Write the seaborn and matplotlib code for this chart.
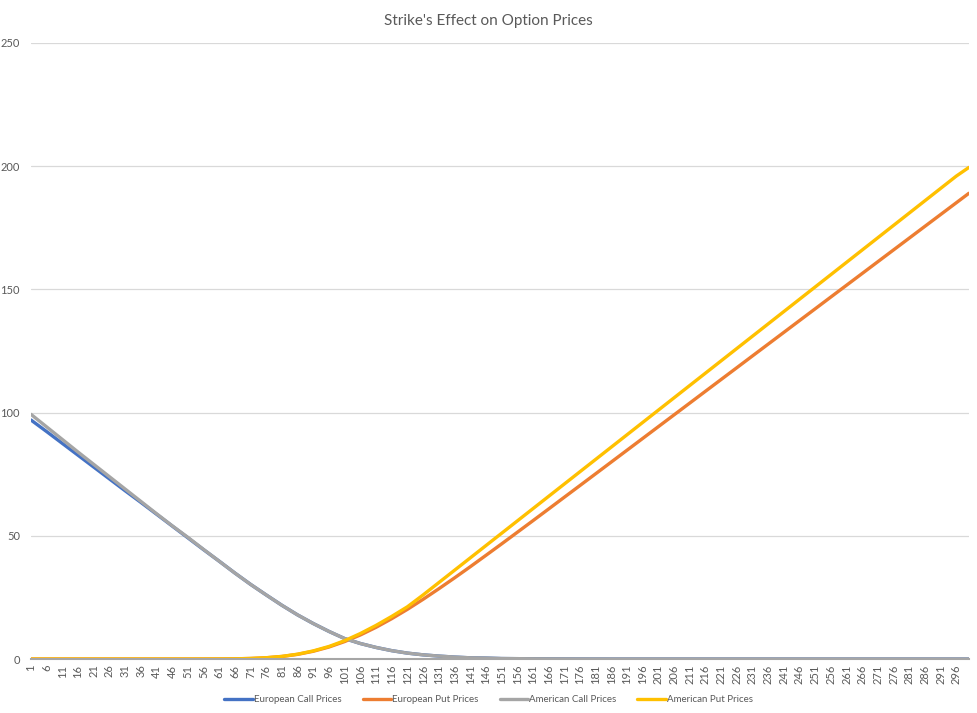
import matplotlib
matplotlib.use("Agg")
import matplotlib.pyplot as plt
import seaborn as sns
import pandas as pd

# strike prices (every 5th category of the 1..300 axis, plus the last one)
strikes = [1, 6, 11, 16, 21, 26, 31, 36, 41, 46, 51, 56, 61, 66, 71, 76, 81, 86, 91, 96,
           101, 106, 111, 116, 121, 126, 131, 136, 141, 146, 151, 156, 161, 166, 171, 176, 181, 186, 191, 196,
           201, 206, 211, 216, 221, 226, 231, 236, 241, 246, 251, 256, 261, 266, 271, 276, 281, 286, 291, 296,
           300]

euro_call = [97.0, 92.3, 87.5, 82.7, 77.9, 73.1, 68.3, 63.6, 58.8, 54.0, 49.2, 44.4, 39.7, 34.9, 30.3, 26.0, 21.8, 17.9, 14.4, 11.2,
             8.3, 6.3, 4.7, 3.4, 2.4, 1.7, 1.2, 0.8, 0.5, 0.4, 0.2, 0.15, 0.1, 0.06, 0.04, 0.02, 0.01, 0, 0, 0,
             0, 0, 0, 0, 0, 0, 0, 0, 0, 0, 0, 0, 0, 0, 0, 0, 0, 0, 0, 0,
             0]

euro_put = [0, 0, 0, 0, 0, 0, 0, 0, 0, 0, 0, 0.01, 0.03, 0.08, 0.22, 0.51, 1.03, 1.89, 3.15, 4.87,
            7.09, 9.76, 12.87, 16.37, 20.16, 24.23, 28.50, 32.90, 37.42, 42.04, 46.69, 51.40, 56.12, 60.87, 65.64, 70.40, 75.17, 79.95, 84.73, 89.51,
            94.30, 99.08, 103.86, 108.65, 113.43, 118.21, 123.00, 127.78, 132.56, 137.35, 142.13, 146.92, 151.70, 156.48, 161.27, 166.05, 170.83, 175.62, 180.40, 185.18,
            189.01]

amer_call = [99.3, 94.2, 89.1, 84.0, 79.0, 74.0, 69.0, 64.0, 59.0, 54.1, 49.4, 44.5, 39.7, 34.9, 30.3, 26.0, 21.8, 17.9, 14.4, 11.2,
             8.3, 6.3, 4.7, 3.4, 2.4, 1.7, 1.2, 0.8, 0.5, 0.4, 0.2, 0.15, 0.1, 0.06, 0.04, 0.02, 0.01, 0, 0, 0,
             0, 0, 0, 0, 0, 0, 0, 0, 0, 0, 0, 0, 0, 0, 0, 0, 0, 0, 0, 0,
             0]

amer_put = [0, 0, 0, 0, 0, 0, 0, 0, 0, 0, 0, 0.01, 0.03, 0.08, 0.23, 0.53, 1.07, 1.97, 3.30, 5.10,
            7.45, 10.35, 13.65, 17.30, 21.2, 26, 31, 36, 41, 46, 51, 56, 61, 66, 71, 76, 81, 86, 91, 96,
            101, 106, 111, 116, 121, 126, 131, 136, 141, 146, 151, 156, 161, 166, 171, 176, 181, 186, 191, 196,
            199.5]

series_names = ["European Call Prices", "European Put Prices", "American Call Prices", "American Put Prices"]
colors = ["#4472C4", "#ED7D31", "#A5A5A5", "#FFC000"]

df = pd.concat([
    pd.DataFrame({"Strike": strikes, "Price": vals, "Series": name})
    for name, vals in zip(series_names, [euro_call, euro_put, amer_call, amer_put])
])

sns.set_style("white")
plt.rcParams["font.family"] = ["Lato", "DejaVu Sans"]
txt = "#595959"

fig = plt.figure(figsize=(9.77, 7.13), dpi=100)
ax = fig.add_axes([0.0317, 0.0757, 0.960, 0.864])

sns.lineplot(data=df, x="Strike", y="Price", hue="Series", hue_order=series_names,
             palette=colors, linewidth=2.4, ax=ax, legend=True)

ax.set_xlim(1, 300)
ax.set_ylim(0, 250)
ax.set_yticks([0, 50, 100, 150, 200, 250])
ax.set_xticks(strikes[:-1])
ax.set_xticklabels([str(s) for s in strikes[:-1]], rotation=90)
ax.tick_params(axis="both", length=0, labelsize=8, colors=txt)
ax.tick_params(axis="y", pad=8)
ax.tick_params(axis="x", pad=4)
ax.grid(axis="y", color="#D9D9D9", linewidth=0.9)
ax.set_axisbelow(True)
ax.set_xlabel("")
ax.set_ylabel("")
for side in ["top", "right", "left"]:
    ax.spines[side].set_visible(False)
ax.spines["bottom"].set_color("#A6A6A6")
ax.spines["bottom"].set_linewidth(1.5)

# title centred on the whole chart, not the plot area
ax.set_title("Strike's Effect on Option Prices", fontsize=11, color=txt, pad=13, x=0.488)

handles, labels = ax.get_legend_handles_labels()
ax.get_legend().remove()
fig.legend(handles, labels, loc="lower center", bbox_to_anchor=(0.5, 0.0), ncol=4,
           frameon=False, fontsize=7, labelcolor=txt, handlelength=2.9, handletextpad=0.1,
           columnspacing=2.2)

fig.savefig("out.png", dpi=100)
